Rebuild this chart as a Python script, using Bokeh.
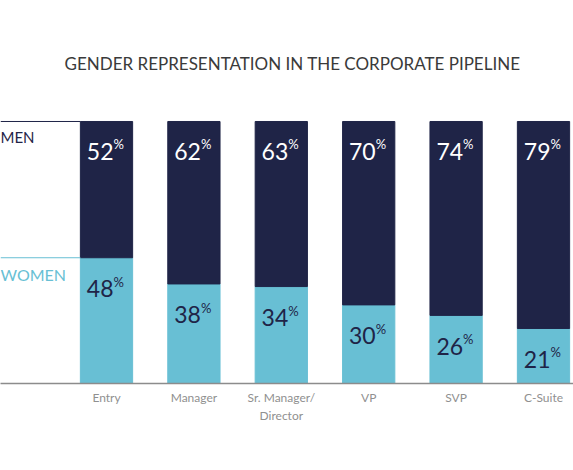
from bokeh.plotting import figure
from bokeh.models import Range1d, FixedTicker, Label, ColumnDataSource
from bokeh.core.properties import value
from bokeh.embed import file_html
from bokeh.resources import INLINE

categories = ["Entry", "Manager", "Sr. Manager/\nDirector", "VP", "SVP", "C-Suite"]
women = [48, 38, 34, 30, 26, 21]
men = [52, 62, 63, 70, 74, 79]
title_text = "GENDER REPRESENTATION IN THE CORPORATE PIPELINE"

NAVY = "#1f2447"
BLUE = "#68bfd4"
FONT = "Lato"

idx = list(range(len(categories)))
men_bottom = [100 - m for m in men]
src = ColumnDataSource(dict(
    x=idx,
    men=[str(m) for m in men],
    women=[str(w) for w in women],
    men_bottom=men_bottom,
    top=[100] * len(idx),
    pct=["%"] * len(idx),
))

x_start = -1.2128
x_end = x_start + 573 / 87.4
p = figure(width=573, height=462, output_backend="svg", toolbar_location=None,
           x_range=Range1d(x_start, x_end), y_range=Range1d(0, 146.18),
           min_border_left=0, min_border_right=0, min_border_top=0, min_border_bottom=79)
p.outline_line_color = None
p.grid.visible = False
p.yaxis.visible = False
p.background_fill_color = "white"
p.border_fill_color = "white"

bw = 0.598
p.vbar(x="x", bottom=0, top="men_bottom", width=bw, source=src, color=BLUE)
p.vbar(x="x", bottom="men_bottom", top="top", width=bw, source=src, color=NAVY)

# percent labels
p.text(x="x", y="top", text="men", source=src, text_font=value(FONT), text_font_size="23px",
       text_color="white", text_align="right", text_baseline="alphabetic", x_offset=7, y_offset=30)
p.text(x="x", y="top", text="pct", source=src, text_font=value(FONT), text_font_size="13px",
       text_color="white", text_align="left", text_baseline="alphabetic", x_offset=7, y_offset=23)
p.text(x="x", y="men_bottom", text="women", source=src, text_font=value(FONT), text_font_size="23px",
       text_color=NAVY, text_align="right", text_baseline="alphabetic", x_offset=7, y_offset=31)
p.text(x="x", y="men_bottom", text="pct", source=src, text_font=value(FONT), text_font_size="13px",
       text_color=NAVY, text_align="left", text_baseline="alphabetic", x_offset=7, y_offset=24)

# legend lines and texts on the left
left_edge = idx[0] - bw / 2
p.segment(x0=[x_start], x1=[left_edge], y0=[100], y1=[100], line_color=NAVY, line_width=1)
p.segment(x0=[x_start], x1=[left_edge], y0=[men_bottom[0]], y1=[men_bottom[0]], line_color=BLUE, line_width=1)
p.text(x=[x_start], y=[100], text=["MEN"], text_font=value(FONT), text_font_size="15px",
       text_color=NAVY, text_align="left", text_baseline="alphabetic", y_offset=16)
p.text(x=[x_start], y=[men_bottom[0]], text=["WOMEN"], text_font=value(FONT), text_font_size="16px",
       text_color=BLUE, text_align="left", text_baseline="alphabetic", y_offset=17)

# title
p.add_layout(Label(x=x_start + 292 / 87.4, y=122.1, text=title_text, text_align="center",
                   text_baseline="alphabetic", text_font=FONT, text_font_size="17px",
                   text_color="#3a3a3a"))

# x axis
p.xaxis.ticker = FixedTicker(ticks=idx)
p.xaxis.major_label_overrides = {i: c for i, c in zip(idx, categories)}
p.xaxis.major_tick_line_color = None
p.xaxis.minor_tick_line_color = None
p.xaxis.axis_line_color = "#8c8c8c"
p.xaxis.axis_line_width = 1.5
p.xaxis.major_label_text_font = FONT
p.xaxis.major_label_text_font_size = "12px"
p.xaxis.major_label_text_color = "#909090"
p.xaxis.major_label_standoff = 0

open("out.html", "w").write(file_html(p, INLINE))
